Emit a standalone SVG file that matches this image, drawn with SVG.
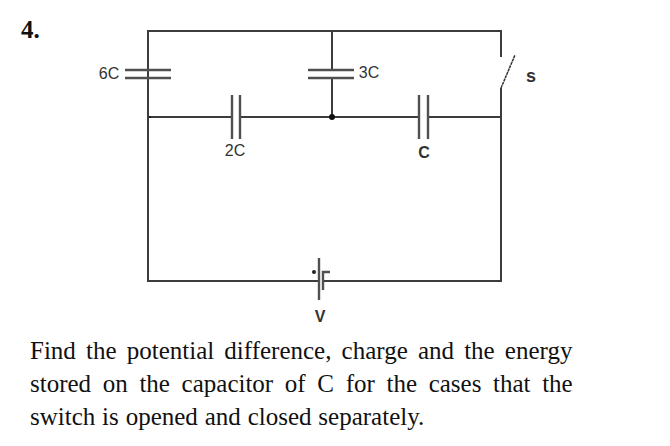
<svg xmlns="http://www.w3.org/2000/svg" width="670" height="446" viewBox="0 0 670 446">
<style>
.w{fill:none;stroke:#3c3c3c;stroke-width:2}
.p{fill:none;stroke:#505050;stroke-width:2.4}
.l{font-family:"Liberation Sans",Arial,sans-serif;font-size:16px;fill:#333;text-anchor:middle}
.t{font-family:"Liberation Serif","Times New Roman",serif;font-size:25px;fill:#111}
</style>
<rect width="670" height="446" fill="#fff"/>
<g id="connectors">
<path class="w" d="M148 78V31H501V57M148 70V31M148 78V281H319M323 281H501V88M148 117H232M240 117H419M428 117H501M332 31V70M332 78V117"/>
<path d="M501 88L515 55" fill="none" stroke="#333" stroke-width="1.5" stroke-dasharray="3 .6"/>
</g>
<g id="cap-6c"><path class="p" d="M125 70H171M125 78H171"/><text class="l" x="109" y="79">6C</text></g>
<g id="cap-3c"><path class="p" d="M308 70H354M308 78H354"/><text class="l" x="369" y="78">3C</text></g>
<g id="cap-2c"><path class="p" d="M232 95V139M240 95V139"/><text class="l" x="235" y="156">2C</text></g>
<g id="cap-c"><path class="p" d="M419 95V139M428 95V139"/><text class="l" x="424" y="158" font-weight="bold">C</text></g>
<g id="junction"><circle cx="332" cy="117" r="3" fill="#111"/><circle cx="150" cy="117" r="1" fill="#111"/></g>
<g id="switch"><text class="l" x="531" y="82" style="font-size:18px" font-weight="bold">s</text></g>
<g id="battery"><path class="p" d="M319 258V300M323 290V272H330"/><circle cx="314" cy="272" r="2" fill="#222"/><text class="l" x="320" y="322" font-weight="bold">V</text></g>
<g id="heading"><text x="21" y="38" font-family="'Liberation Serif','Times New Roman',serif" font-size="25px" font-weight="bold" fill="#111">4.</text></g>
<g id="question">
<text class="t" x="30" y="359" word-spacing="3.9">Find the potential difference, charge and the energy</text>
<text class="t" x="30" y="392" word-spacing="5.4">stored on the capacitor of C for the cases that the</text>
<text class="t" x="30" y="425" word-spacing="0.6">switch is opened and closed separately.</text>
</g>
</svg>
